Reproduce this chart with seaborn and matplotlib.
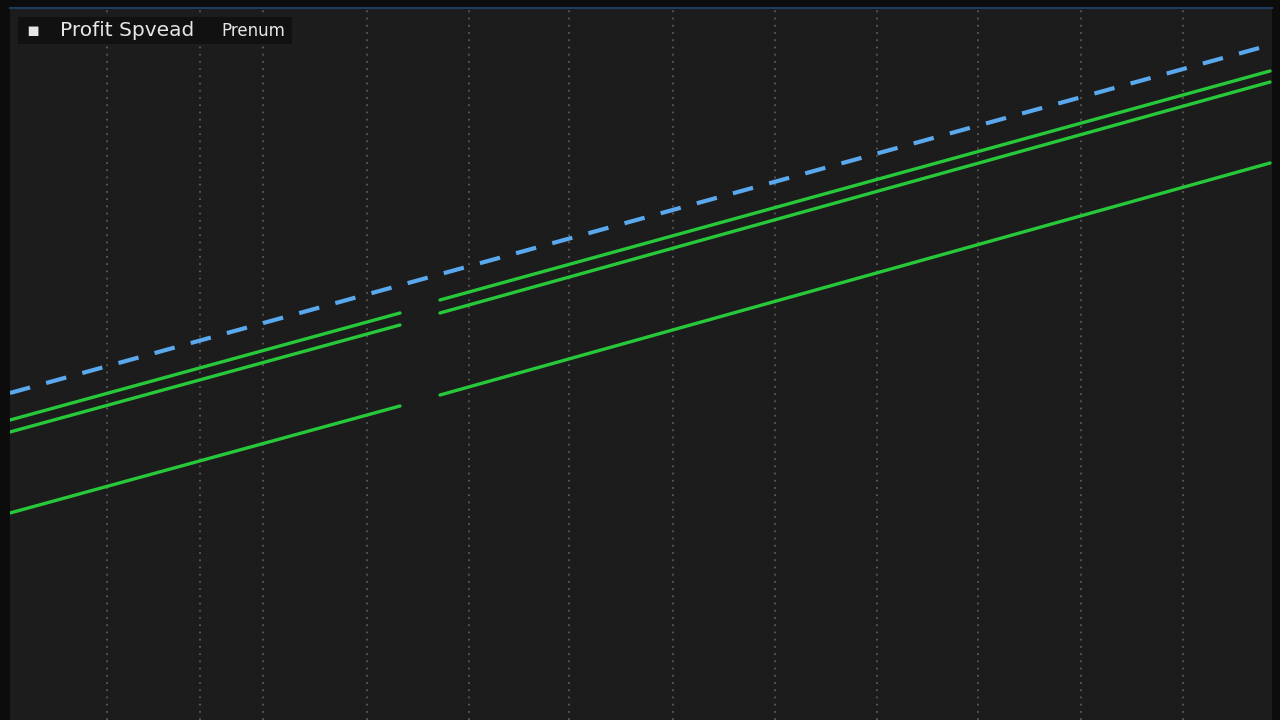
import numpy as np
import pandas as pd
import matplotlib
matplotlib.use("Agg")
from matplotlib import pyplot as plt
from matplotlib.patches import Rectangle
import seaborn as sns

# x positions of the two runs (gap between 39 and 43)
seg_left = [0, 39]
seg_right = [43, 126]

# series values (start/end of each run)
spread_dash = [32.7, 67.5]          # blue dashed, no gap
green_a_left = [30.0, 40.7]
green_a_right = [42.0, 64.9]
green_b_left = [28.8, 39.5]
green_b_right = [40.7, 63.8]
green_c_left = [20.7, 31.4]
green_c_right = [32.5, 55.7]

# vertical grid positions
grid_x = [9.7, 19.0, 25.3, 35.7, 45.9, 55.9, 66.3, 76.5, 86.7, 96.8, 107.1, 117.3]

legend_labels = ["\u25aa", "Profit Spvead", "Prenum"]

sns.set_theme(style="dark")
plt.rcParams['font.family'] = ['DejaVu Sans']

fig = plt.figure(figsize=(12.8, 7.2), dpi=100, facecolor="#0c0c0c")
ax = fig.add_axes([10 / 1280, 0, 1262 / 1280, 712 / 720])
ax.set_facecolor("#1c1c1c")

# blue dashed line
sns.lineplot(x=[seg_left[0], seg_right[1]], y=spread_dash, ax=ax, color="#5aa9ee",
             lw=3.0, dashes=False)
ax.lines[-1].set_dashes([5, 4])

# green runs
green = "#27c93a"
for left, right in [(green_a_left, green_a_right), (green_b_left, green_b_right),
                    (green_c_left, green_c_right)]:
    sns.lineplot(x=seg_left, y=left, ax=ax, color=green, lw=2.4)
    sns.lineplot(x=seg_right, y=right, ax=ax, color=green, lw=2.4)

ax.set_xlim(0, 126.2)
ax.set_ylim(0, 71.2)
ax.set_xticks(grid_x)
ax.set_yticks([])
ax.tick_params(length=0, labelbottom=False, labelleft=False)
ax.grid(axis="x", color="#5a5a5a", linestyle=(0, (1, 3)), linewidth=1.3)
ax.grid(axis="y", visible=False)
ax.set_axisbelow(True)

for side in ["left", "right", "bottom"]:
    ax.spines[side].set_visible(False)
ax.spines["top"].set_color("#1f3d63")
ax.spines["top"].set_linewidth(1.5)

# legend strip, top left
fig.patches.append(Rectangle((18 / 1280, 1 - 44 / 720), 274 / 1280, 27 / 720,
                             transform=fig.transFigure, facecolor="#111111",
                             edgecolor="none", zorder=5))
ty = 1 - 31 / 720
fig.text(26 / 1280, ty, legend_labels[0], fontsize=14, color="#e6e6e6",
         va="center", ha="left", zorder=6)
fig.text(60 / 1280, ty, legend_labels[1], fontsize=14.5, color="#e6e6e6",
         va="center", ha="left", zorder=6)
fig.text(221 / 1280, ty, legend_labels[2], fontsize=12, color="#e6e6e6",
         va="center", ha="left", zorder=6)

ax.set_xlabel("")
ax.set_ylabel("")
fig.savefig("out.png", dpi=100, facecolor=fig.get_facecolor())
